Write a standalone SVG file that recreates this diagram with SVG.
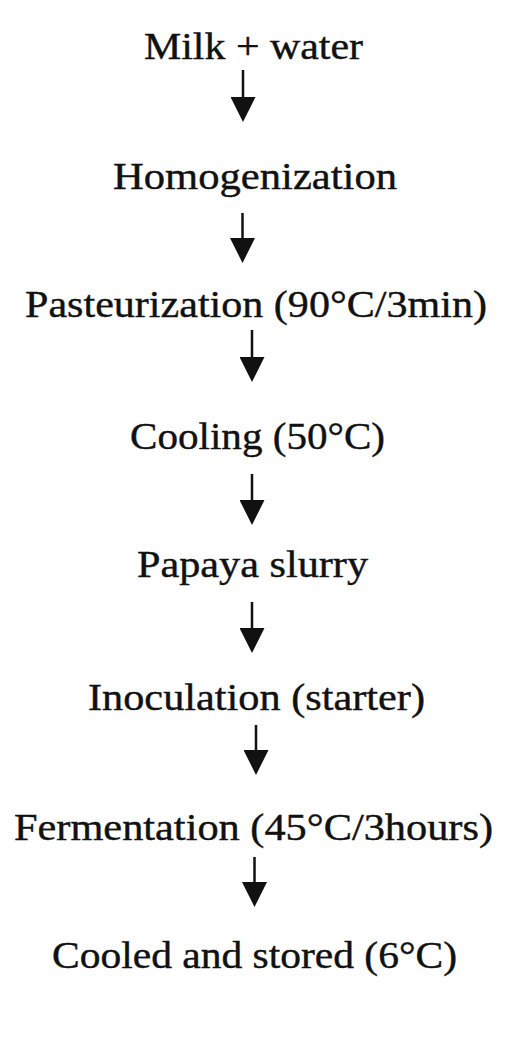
<svg xmlns="http://www.w3.org/2000/svg" width="516" height="1050" viewBox="0 0 516 1050">
<style>
.lbl{font-family:"Liberation Serif","Times New Roman",serif;font-size:37px;fill:#111;stroke:#111;stroke-width:0.4}
.arr{stroke:#111;stroke-width:2.5;fill:none;marker-end:url(#head)}
</style>
<defs>
<marker id="head" viewBox="0 -12.5 25 25" refX="0" refY="0" markerWidth="25" markerHeight="25" markerUnits="userSpaceOnUse" orient="auto">
<path d="M0,-12.5 L25,0 L0,12.5 Z" fill="#111"/>
</marker>
</defs>
<rect width="516" height="1050" fill="#fff"/>
<g id="n1"><text class="lbl" x="144" y="59" textLength="219" lengthAdjust="spacingAndGlyphs">Milk + water</text></g>
<g id="n2"><text class="lbl" x="113" y="189" textLength="284" lengthAdjust="spacingAndGlyphs">Homogenization</text></g>
<g id="n3"><text class="lbl" x="25" y="317" textLength="462" lengthAdjust="spacingAndGlyphs">Pasteurization (90°C/3min)</text></g>
<g id="n4"><text class="lbl" x="130" y="449" textLength="255" lengthAdjust="spacingAndGlyphs">Cooling (50°C)</text></g>
<g id="n5"><text class="lbl" x="137" y="577" textLength="231" lengthAdjust="spacingAndGlyphs">Papaya slurry</text></g>
<g id="n6"><text class="lbl" x="88" y="710" textLength="337" lengthAdjust="spacingAndGlyphs">Inoculation (starter)</text></g>
<g id="n7"><text class="lbl" x="14" y="840" textLength="479" lengthAdjust="spacingAndGlyphs">Fermentation (45°C/3hours)</text></g>
<g id="n8"><text class="lbl" x="52" y="968" textLength="405" lengthAdjust="spacingAndGlyphs">Cooled and stored (6°C)</text></g>
<g id="connectors">
<line class="arr" x1="243" y1="70" x2="243" y2="97"/>
<line class="arr" x1="242.5" y1="213" x2="242.5" y2="238"/>
<line class="arr" x1="252" y1="330" x2="252" y2="357"/>
<line class="arr" x1="252" y1="474" x2="252" y2="500"/>
<line class="arr" x1="252" y1="602" x2="252" y2="628"/>
<line class="arr" x1="256" y1="725" x2="256" y2="750"/>
<line class="arr" x1="254.5" y1="857" x2="254.5" y2="882"/>
</g>
</svg>
